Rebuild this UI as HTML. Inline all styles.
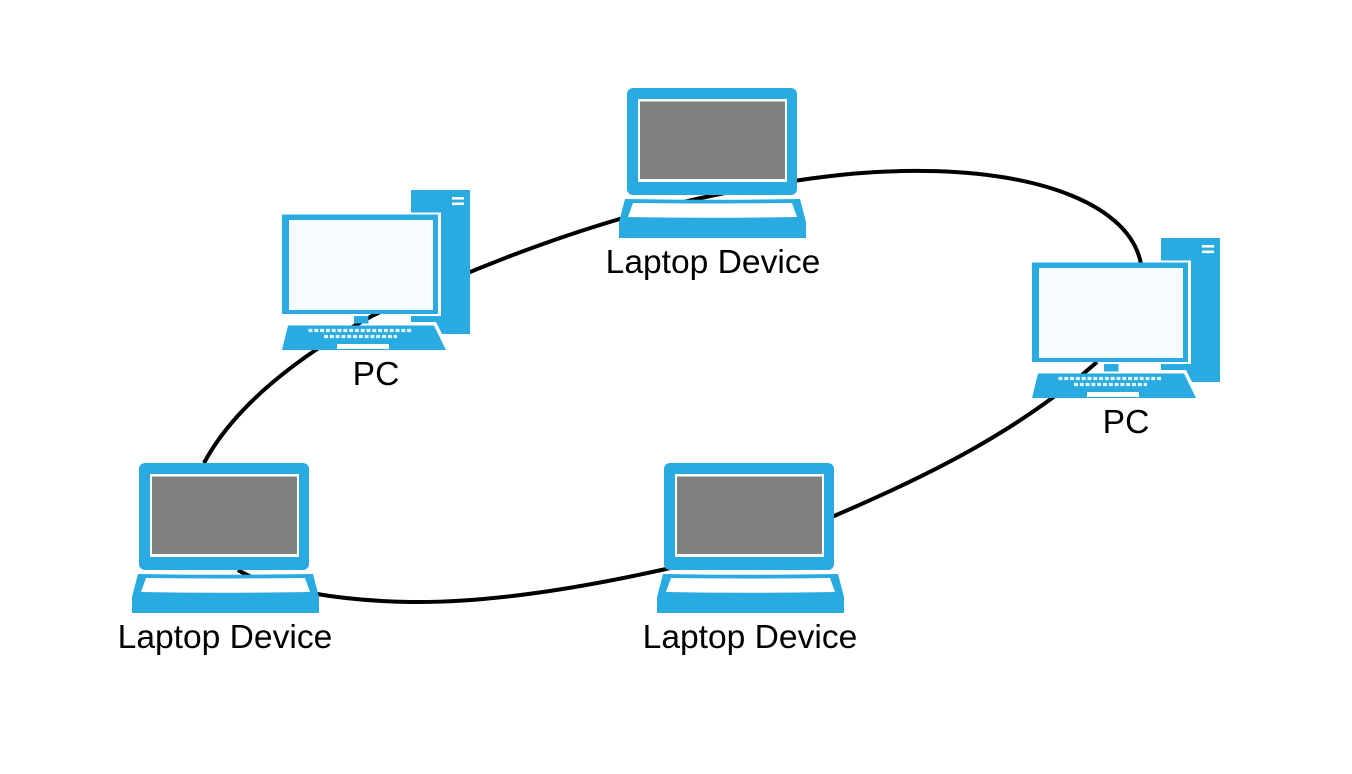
<!DOCTYPE html>
<html><head><meta charset="utf-8"><style>
html,body{margin:0;padding:0;background:#fff;width:1352px;height:774px;overflow:hidden}
svg{display:block}
text{font-family:"Liberation Sans",sans-serif;font-size:33.6px;fill:#000;text-anchor:middle}
</style></head><body>
<svg width="1352" height="774" viewBox="0 0 1352 774" xmlns="http://www.w3.org/2000/svg">
<defs>
<g id="body">
<rect x="627" y="88" width="170" height="107" rx="6" fill="#29abe2"/>
<rect x="638" y="99" width="149" height="83" fill="#fff"/>
<rect x="640" y="101.500" width="145" height="77.500" fill="#808080"/>
</g>
<g id="base">
<path d="M625 199 Q712 200.500 800 199 L806 222 V238 H619 V222 Z" fill="#29abe2"/>
<path d="M633 203 Q712 204 792 203 L797 217 Q712 218.500 628 217 Z" fill="#fff"/>
</g>
<g id="pc">
<rect x="411" y="212.500" width="30" height="104" fill="#fff"/>
<path d="M411 190 H470 V334 H442 L436 322 H411 V316 H441 V212.500 H411 Z" fill="#29abe2"/>
<rect x="452" y="197" width="12" height="2.600" fill="#fff"/>
<rect x="452" y="202.500" width="12" height="2.600" fill="#fff"/>
<rect x="282" y="214.500" width="156" height="99.500" fill="#29abe2"/>
<rect x="289" y="220" width="144" height="90" fill="#f8fcfe"/>
<rect x="354" y="316" width="14.500" height="7.500" fill="#29abe2"/>
<path d="M288 325.500 H434 L446 350 H282 Z" fill="#29abe2"/>
<rect x="337" y="344" width="52" height="5" fill="#fff"/>
<path d="M308.500 330.500 H412" stroke="#e3f4fb" stroke-width="3.200" stroke-dasharray="4 1.800" fill="none"/>
<path d="M324 336.500 H397" stroke="#e3f4fb" stroke-width="3.200" stroke-dasharray="4 1.800" fill="none"/>
</g>
</defs>
<g fill="none" stroke="#000" stroke-width="4">
<path d="M204 463 C235 405 300 355 372 316 C440 283 570 225 715 195 C795 179 860 170 925 171 C1040 172 1130 205 1141 264"/>
<path d="M1097 362 C1020 430 930 475 834 516 C780 540 720 558 666 569 C580 588 490 603 410 602 C345 601 270 590 238 570"/>
</g>
<use href="#body"/>
<use href="#base"/>
<use href="#body" x="-488" y="375"/>
<use href="#base" x="-487" y="375"/>
<use href="#body" x="37" y="375"/>
<use href="#base" x="38" y="375"/>
<use href="#pc"/>
<use href="#pc" x="750" y="48"/>
<text x="713" y="273">Laptop Device</text>
<text x="225" y="648">Laptop Device</text>
<text x="750" y="648">Laptop Device</text>
<text x="376" y="385">PC</text>
<text x="1126" y="433">PC</text>
</svg>
</body></html>
